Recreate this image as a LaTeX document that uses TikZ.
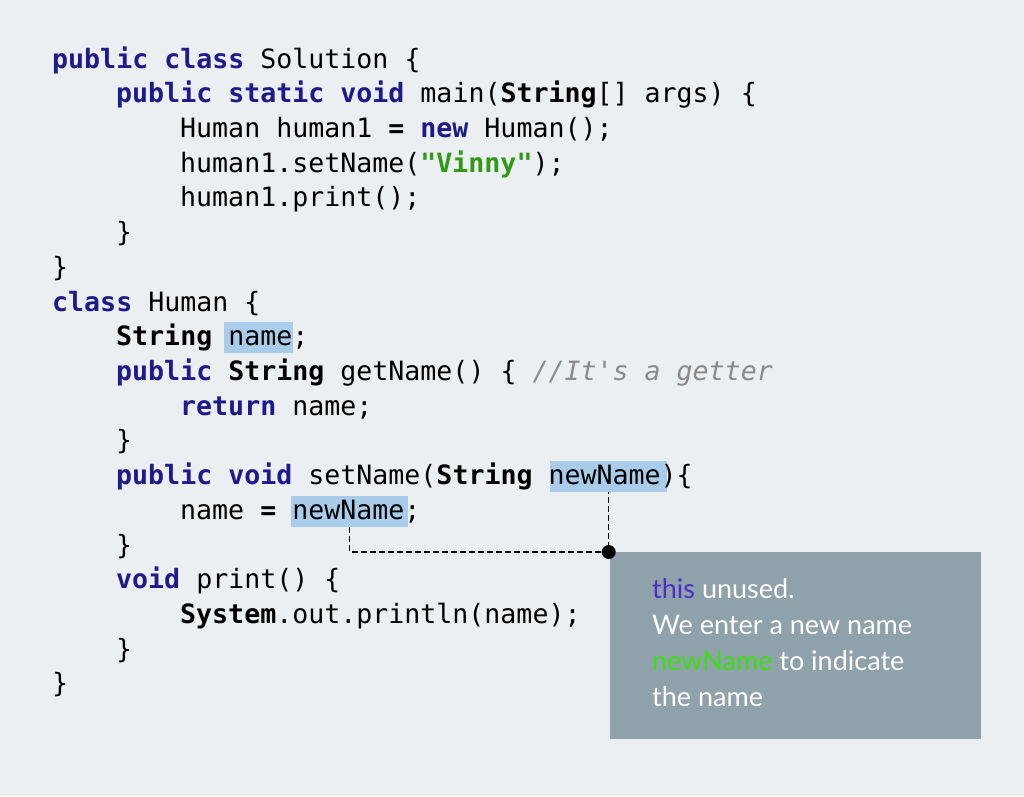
\documentclass[tikz,border=0pt]{standalone}
\usepackage{fontspec}
\setmainfont{Lato}
\setmonofont{DejaVu Sans Mono}
\usepackage{xcolor}
\definecolor{pagebg}{HTML}{ECEFF2}
\definecolor{kwblue}{HTML}{1E1A8A}
\definecolor{strgreen}{HTML}{2E9A16}
\definecolor{cmgray}{HTML}{8A8A8A}
\definecolor{hlblue}{HTML}{A9CCEA}
\definecolor{notegray}{HTML}{8FA2AC}
\definecolor{thisblue}{HTML}{4A2FC8}
\definecolor{nngreen}{HTML}{3CE010}
\newcommand{\kw}[1]{\textcolor{kwblue}{\textbf{#1}}}
\newcommand{\ty}[1]{\textbf{#1}}
\newcommand{\str}[1]{\textcolor{strgreen}{\textbf{#1}}}
\newcommand{\cm}[1]{\textcolor{cmgray}{\textit{#1}}}
\tikzset{
  codeline/.style={anchor=base west, inner sep=0pt, font=\ttfamily\fontsize{26.6}{30}\selectfont},
  hlbox/.style={fill=hlblue, inner sep=0pt, anchor=north west},
  link/.style={dashed, line width=1.3pt, dash pattern=on 6pt off 3pt},
}
\begin{document}
\begin{tikzpicture}[x=1pt,y=-1pt]
  \fill[pagebg] (0,0) rectangle (1024,796);
  \useasboundingbox (0,0) rectangle (1024,796);
  % highlights behind the code
  \node[hlbox, minimum width=69pt, minimum height=31pt] (hlname) at (224,322) {};
  \node[hlbox, minimum width=117pt, minimum height=31pt] (hlarg) at (550,461) {};
  \node[hlbox, minimum width=117pt, minimum height=31pt] (hluse) at (291,496) {};
  % code lines
  \foreach \i/\ind/\txt in {
    1/0/{\kw{public} \kw{class} Solution \{},
    2/4/{\kw{public} \kw{static} \kw{void} main(\ty{String}[] args) \{},
    3/8/{Human human1 \ty{=} \kw{new} Human();},
    4/8/{human1.setName(\str{"Vinny"});},
    5/8/{human1.print();},
    6/4/{\}},
    7/0/{\}},
    8/0/{\kw{class} Human \{},
    9/4/{\ty{String} name;},
    10/4/{\kw{public} \ty{String} getName() \{ \cm{//It's a getter}},
    11/8/{\kw{return} name;},
    12/4/{\}},
    13/4/{\kw{public} \kw{void} setName(\ty{String} newName)\{},
    14/8/{name \ty{=} newName;},
    15/4/{\}},
    16/4/{\kw{void} print() \{},
    17/8/{\ty{System}.out.println(name);},
    18/4/{\}},
    19/0/{\}}}
    \node[codeline] (line\i) at ({52+16*\ind}, {68+34.72*(\i-1)}) {\txt};
  % callout
  \node[fill=notegray, minimum width=371pt, minimum height=187pt, inner sep=0pt, anchor=north west] (note) at (610,552) {};
  \node[anchor=north west, inner sep=0pt, align=left, text=white,
        font=\fontsize{27}{36}\selectfont] (notetext) at (652,578)
    {\textcolor{thisblue}{this} unused.\\We enter a new name\\\textcolor{nngreen}{newName} to indicate\\the name};
  \coordinate (knee) at (hluse.south |- note.north west);
  \draw[link] (hluse.south) -- (knee) -- (hlarg.south |- note.north west) -- (hlarg.south);
  \fill (hlarg.south |- note.north west) circle[radius=7pt];
\end{tikzpicture}
\end{document}
